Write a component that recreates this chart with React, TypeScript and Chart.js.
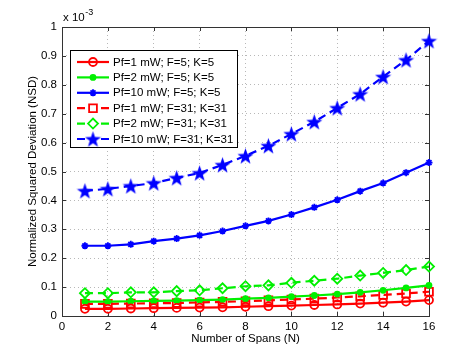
import React, { useEffect, useRef } from 'react';
import { Chart, registerables } from 'chart.js';
import { drawPoint } from 'chart.js/helpers';

Chart.register(...registerables);

// ---- data (NSD values in units of 1e-3) ----
const spans = [1, 2, 3, 4, 5, 6, 7, 8, 9, 10, 11, 12, 13, 14, 15, 16];
const pf1F5 = [0.025, 0.025, 0.026, 0.027, 0.028, 0.029, 0.030, 0.032, 0.034, 0.036, 0.038, 0.040, 0.043, 0.046, 0.050, 0.055];
const pf2F5 = [0.050, 0.050, 0.051, 0.052, 0.053, 0.055, 0.057, 0.060, 0.063, 0.067, 0.071, 0.076, 0.082, 0.089, 0.097, 0.106];
const pf10F5 = [0.243, 0.243, 0.248, 0.259, 0.268, 0.279, 0.294, 0.312, 0.329, 0.351, 0.376, 0.402, 0.432, 0.460, 0.496, 0.531];
const pf1F31 = [0.042, 0.042, 0.043, 0.044, 0.045, 0.047, 0.049, 0.051, 0.054, 0.057, 0.060, 0.064, 0.068, 0.073, 0.078, 0.084];
const pf2F31 = [0.079, 0.079, 0.082, 0.082, 0.086, 0.089, 0.096, 0.103, 0.106, 0.115, 0.122, 0.129, 0.140, 0.149, 0.159, 0.171];
const pf10F31 = [0.433, 0.440, 0.450, 0.460, 0.478, 0.495, 0.523, 0.554, 0.589, 0.630, 0.672, 0.720, 0.768, 0.828, 0.886, 0.952];

const seriesLabels = [
  'Pf=1 mW; F=5; K=5',
  'Pf=2 mW; F=5; K=5',
  'Pf=10 mW; F=5; K=5',
  'Pf=1 mW; F=31; K=31',
  'Pf=2 mW; F=31; K=31',
  'Pf=10 mW; F=31; K=31',
];
const xTicks = [0, 2, 4, 6, 8, 10, 12, 14, 16];
const yTicks = [0, 0.1, 0.2, 0.3, 0.4, 0.5, 0.6, 0.7, 0.8, 0.9, 1];
const xTitle = 'Number of Spans (N)';
const yTitle = 'Normalized Squared Deviation (NSD)';

const FONT = "'Liberation Sans', Arial, Helvetica, sans-serif";
const FS = 11.5;
const RED = '#ff0000';
const GREEN = '#00f000';
const BLUE = '#0000ff';

function makeStar(size: number, color: string): HTMLCanvasElement {
  const c = document.createElement('canvas');
  c.width = size;
  c.height = size;
  const ctx = c.getContext('2d')!;
  const cx = size / 2;
  const cy = size / 2 + 0.8;
  const R = size / 2;
  const r = R * 0.4;
  ctx.beginPath();
  for (let i = 0; i < 10; i++) {
    const a = -Math.PI / 2 + (i * Math.PI) / 5;
    const rad = i % 2 === 0 ? R : r;
    const px = cx + rad * Math.cos(a);
    const py = cy + rad * Math.sin(a);
    if (i === 0) ctx.moveTo(px, py);
    else ctx.lineTo(px, py);
  }
  ctx.closePath();
  ctx.fillStyle = color;
  ctx.fill();
  return c;
}

export default function App() {
  const ref = useRef<HTMLCanvasElement | null>(null);

  useEffect(() => {
    document.body.style.margin = '0';
    const canvas = ref.current!;
    const star = makeStar(17, BLUE);

    const seriesValues = [pf1F5, pf2F5, pf10F5, pf1F31, pf2F31, pf10F31];
    const styles = [
      { color: RED, dash: [] as number[], pointStyle: 'circle' as any, radius: 4, fill: 'rgba(0,0,0,0)' },
      { color: GREEN, dash: [], pointStyle: 'circle' as any, radius: 2.5, fill: GREEN },
      { color: BLUE, dash: [], pointStyle: 'star' as any, radius: 3.5, fill: BLUE },
      { color: RED, dash: [8, 5], pointStyle: 'rect' as any, radius: 5.5, fill: 'rgba(0,0,0,0)' },
      { color: GREEN, dash: [8, 5], pointStyle: 'rectRot' as any, radius: 5, fill: 'rgba(0,0,0,0)' },
      { color: BLUE, dash: [8, 5], pointStyle: star as any, radius: 8, fill: BLUE },
    ];

    const datasets = seriesValues.map((vals, i) => ({
      label: seriesLabels[i],
      data: vals.map((v, j) => ({ x: spans[j], y: v })),
      borderColor: styles[i].color,
      backgroundColor: styles[i].fill,
      borderWidth: 2.2,
      borderDash: styles[i].dash,
      pointStyle: styles[i].pointStyle,
      pointRadius: styles[i].radius,
      pointBorderWidth: 1.8,
      pointBorderColor: styles[i].color,
      pointBackgroundColor: styles[i].fill,
      tension: 0,
      showLine: true,
      clip: false as any,
    }));

    const framePlugin = {
      id: 'frame',
      beforeDatasetsDraw(chart: any) {
        const { ctx, chartArea: a, scales } = chart;
        ctx.save();
        ctx.strokeStyle = '#333333';
        ctx.lineWidth = 1;
        ctx.setLineDash([]);
        ctx.strokeRect(a.left + 0.5, a.top + 0.5, a.right - a.left, a.bottom - a.top);
        const tl = 4;
        ctx.beginPath();
        xTicks.forEach((t) => {
          const px = Math.round(scales.x.getPixelForValue(t)) + 0.5;
          ctx.moveTo(px, a.bottom);
          ctx.lineTo(px, a.bottom - tl);
          ctx.moveTo(px, a.top);
          ctx.lineTo(px, a.top + tl);
        });
        yTicks.forEach((t) => {
          const py = Math.round(scales.y.getPixelForValue(t)) + 0.5;
          ctx.moveTo(a.left, py);
          ctx.lineTo(a.left + tl, py);
          ctx.moveTo(a.right, py);
          ctx.lineTo(a.right - tl, py);
        });
        ctx.stroke();
        // exponent label
        ctx.fillStyle = '#000';
        ctx.font = `${FS}px ${FONT}`;
        ctx.textBaseline = 'alphabetic';
        ctx.textAlign = 'left';
        ctx.fillText('x 10', a.left + 1, a.top - 6);
        const w = ctx.measureText('x 10').width;
        ctx.font = `9px ${FONT}`;
        ctx.fillText('-3', a.left + 1 + w + 0.5, a.top - 12);
        ctx.restore();
      },
      afterDraw(chart: any) {
        const { ctx } = chart;
        const bx = 70, by = 50, bw = 167, bh = 97;
        ctx.save();
        ctx.fillStyle = '#ffffff';
        ctx.fillRect(bx, by, bw, bh);
        ctx.strokeStyle = '#000';
        ctx.lineWidth = 1;
        ctx.setLineDash([]);
        ctx.strokeRect(bx + 0.5, by + 0.5, bw, bh);
        ctx.font = `${FS}px ${FONT}`;
        ctx.textBaseline = 'middle';
        ctx.textAlign = 'left';
        const x0 = 77, x1 = 109, xm = 93;
        seriesLabels.forEach((lab, i) => {
          const y = 62 + i * 15.4;
          const s = styles[i];
          ctx.strokeStyle = s.color;
          ctx.lineWidth = 2.2;
          ctx.beginPath();
          if (s.dash.length) {
            ctx.moveTo(x0, y); ctx.lineTo(x0 + 8, y);
            ctx.moveTo(x1 - 8, y); ctx.lineTo(x1, y);
          } else {
            ctx.moveTo(x0, y); ctx.lineTo(x1, y);
          }
          ctx.stroke();
          ctx.fillStyle = s.fill;
          ctx.strokeStyle = s.color;
          ctx.lineWidth = 1.8;
          drawPoint(ctx, { pointStyle: s.pointStyle, radius: s.radius, rotation: 0, borderWidth: 1.8 } as any, xm, y);
          ctx.fillStyle = '#000';
          ctx.fillText(lab, 113, y + 0.5);
        });
        ctx.restore();
      },
    };

    const chart = new Chart(canvas, {
      type: 'line',
      data: { datasets: datasets as any },
      plugins: [framePlugin as any],
      options: {
        responsive: false,
        animation: false,
        devicePixelRatio: 1,
        layout: { padding: { top: 27, right: 45, left: 0, bottom: 0 } },
        plugins: { legend: { display: false }, tooltip: { enabled: false } },
        scales: {
          x: {
            type: 'linear',
            min: 0,
            max: 16,
            afterFit: (s: any) => { s.height = 39; },
            afterBuildTicks: (s: any) => { s.ticks = xTicks.map((v) => ({ value: v })); },
            grid: { color: '#b8b8b8', lineWidth: 1, drawTicks: false },
            border: { display: false, dash: [1, 3] },
            ticks: {
              padding: 4,
              color: '#000',
              font: { family: FONT, size: FS },
              maxRotation: 0,
              callback: (v: any) => String(v),
            },
            title: {
              display: true,
              text: xTitle,
              color: '#000',
              font: { family: FONT, size: FS },
              padding: { top: 0, bottom: 9 },
            },
          },
          y: {
            type: 'linear',
            min: 0,
            max: 1,
            afterFit: (s: any) => { s.width = 62; },
            afterBuildTicks: (s: any) => { s.ticks = yTicks.map((v) => ({ value: v })); },
            grid: { color: '#b8b8b8', lineWidth: 1, drawTicks: false },
            border: { display: false, dash: [1, 3] },
            ticks: {
              padding: 5,
              color: '#000',
              font: { family: FONT, size: FS },
              callback: (v: any) => String(Math.round(Number(v) * 10) / 10),
            },
            title: {
              display: true,
              text: yTitle,
              color: '#000',
              font: { family: FONT, size: FS },
              padding: { top: 26, bottom: 0 },
            },
          },
        },
      } as any,
    });
    return () => chart.destroy();
  }, []);

  return (
    <div style={{ width: 474, height: 355 }}>
      <canvas ref={ref} width={474} height={355} style={{ display: 'block' }} />
    </div>
  );
}
